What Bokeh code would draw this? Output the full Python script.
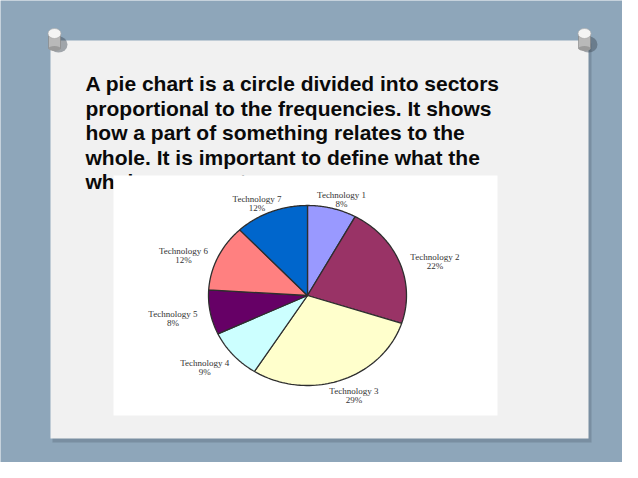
import numpy as np
from bokeh.plotting import figure
from bokeh.models import Range1d, ColumnDataSource
from bokeh.core.properties import value
from bokeh.embed import file_html
from bokeh.resources import INLINE

# ---- data ----
categories = ["Technology 1", "Technology 2", "Technology 3", "Technology 4",
              "Technology 5", "Technology 6", "Technology 7"]
shares = [8, 22, 29, 9, 8, 12, 12]
colors = ["#9999ff", "#993366", "#ffffcc", "#ccffff", "#660066", "#ff8080", "#0066cc"]
title_lines = [
    "A pie chart is a circle divided into sectors",
    "proportional to the frequencies. It shows",
    "how a part of something relates to the",
    "whole. It is important to define what the",
    "whole represents.",
]

# ---- layout (screen pixel coordinates) ----
BG = "#8ea6ba"
p = figure(width=622, height=462, x_range=Range1d(0, 622), y_range=Range1d(462, 0),
           output_backend="svg", toolbar_location=None, min_border=0)
p.axis.visible = False
p.grid.visible = False
p.outline_line_color = None
p.background_fill_color = BG
p.border_fill_color = BG

# card shadow + card
p.quad(left=[52], right=[591], top=[43], bottom=[442], fill_color="#5f7282",
       fill_alpha=0.45, line_color=None)
p.quad(left=[50], right=[588], top=[40], bottom=[438], fill_color="#f1f1f1",
       line_color=None)

# pins
for px in (54, 584):
    p.ellipse(x=[px + 4], y=[44], width=18, height=16, fill_color="#3d4a55",
              fill_alpha=0.45, line_color=None)
    p.quad(left=[px - 6], right=[px + 6], top=[33], bottom=[48], fill_color="#b9b9b9",
           line_color="#808080", line_width=0.6)
    p.ellipse(x=[px], y=[48], width=12, height=5, fill_color="#9a9a9a", line_color=None)
    p.ellipse(x=[px], y=[33], width=13, height=10, fill_color="#f4f4f4",
              line_color="#a8a8a8", line_width=0.6)

# title text
base0, step = 83, 24.5
p.text(x=[85] * len(title_lines), y=[base0 + step * i for i in range(len(title_lines))],
       text=title_lines, text_font=value("Liberation Sans"), text_font_style="bold",
       text_font_size="21px", text_color="#0a0a0a", text_baseline="alphabetic",
       text_align="left")

# embedded chart picture
p.quad(left=[113], right=[497], top=[175], bottom=[415], fill_color="#ffffff",
       line_color=None)

# pie (slightly elliptical, clockwise from 12 o'clock)
cx, cy, rx, ry = 307, 295, 99, 90
vals = np.array(shares, dtype=float)
cum = np.concatenate([[0], np.cumsum(vals)]) / vals.sum() * 2 * np.pi
xs, ys = [], []
for a0, a1 in zip(cum[:-1], cum[1:]):
    t = np.linspace(a0, a1, 60)
    xs.append([cx] + list(cx + rx * np.sin(t)) + [cx])
    ys.append([cy] + list(cy - ry * np.cos(t)) + [cy])
src = ColumnDataSource(dict(xs=xs, ys=ys, color=colors, cat=categories))
p.patches("xs", "ys", source=src, fill_color="color", line_color="#2e2e2e",
          line_width=1.3)

# labels
mid = (cum[:-1] + cum[1:]) / 2
lrx, lry = 137, 103
lx = cx + lrx * np.sin(mid)
ly = cy - lry * np.cos(mid)
pct = [f"{v:g}%" for v in shares]
p.text(x=lx, y=ly - 1, text=categories, text_font=value("Liberation Serif"),
       text_font_size="9px", text_color="#333333", text_align="center",
       text_baseline="alphabetic")
p.text(x=lx, y=ly + 8, text=pct, text_font=value("Liberation Serif"),
       text_font_size="9px", text_color="#333333", text_align="center",
       text_baseline="alphabetic")

open("out.html", "w").write(file_html(p, INLINE))
